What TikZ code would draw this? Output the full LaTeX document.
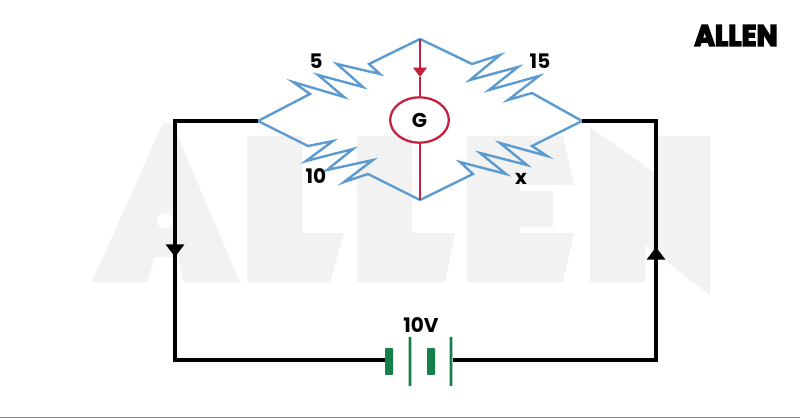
\documentclass[tikz,border=0pt]{standalone}
\usepackage{fontspec}
\setmainfont{Poppins}
\newfontfamily\logofont{Poppins}[BoldFeatures={FakeBold=5}]
\usetikzlibrary{arrows.meta,shapes.geometric}
\definecolor{wmark}{HTML}{F2F2F2}
\definecolor{legblue}{HTML}{5B9BD0}
\definecolor{galvred}{HTML}{C4213F}
\definecolor{cellgreen}{HTML}{14804A}
\tikzset{
  wire/.style = {draw=black,line width=2.6pt},
  leg/.style = {draw=legblue,line width=1.8pt},
  galv/.style = {draw=galvred,line width=1.7pt},
  plate/.style = {fill=cellgreen,draw=none,rounded corners=0.5pt},
  val/.style = {font=\fontsize{15}{15}\selectfont\bfseries,inner sep=0pt}
}
\tikzset{>={Triangle[length=9.5pt,width=13.5pt]}}

\begin{document}
\begin{tikzpicture}[x=0.75pt,y=-0.75pt]
  \useasboundingbox (0,0) rectangle (800,418);
  % watermark
  \fill[wmark,even odd rule] (92,282) -- (163,123) -- (172,123) -- (240,282) -- (183,282) -- (178,257) -- (155,257) -- (147,282) -- cycle (165,221) circle (8);
  \fill[wmark] (247,136) -- (302,136) -- (302,233) -- (344,233) -- (330,282) -- (247,282) -- cycle;
  \fill[wmark] (357,136) -- (412,136) -- (412,233) -- (455,233) -- (445,282) -- (357,282) -- cycle;
  \fill[wmark] (467,136) -- (563,136) -- (574,185) -- (520,185) -- (520,191) -- (553,191) -- (553,227) -- (520,227) -- (520,233) -- (574,233) -- (563,282) -- (467,282) -- cycle;
  \fill[wmark] (590,127) -- (655,173) -- (657,136) -- (710,136) -- (710,295) -- (645,245) -- (645,282) -- (590,282) -- cycle;
  \draw[gray,line width=1pt] (0,417.5) -- (800,417.5);

  \coordinate (left) at (258,121);
  \coordinate (right) at (582,121);
  \coordinate (top) at (420,39);
  \coordinate (bot) at (420,200);
  \coordinate (downtip) at (175,257);
  \coordinate (uptip) at (656,247);
  \coordinate (redtip) at (420,77);

  % bridge arms
  \draw[leg] (left) -- (310,94) -- (293,82) -- (344,97) -- (318,75) -- (363,87) -- (337,64) -- (380,74) -- (369,64) -- (top);
  \draw[leg] (top) -- (472,64) -- (500,55) -- (470,80) -- (518,67) -- (489,90) -- (539,76) -- (508,100) -- (532,93) -- (right);
  \draw[leg] (left) -- (308,146) -- (333,141) -- (306,161) -- (353,149) -- (327,170) -- (373,160) -- (344,182) -- (368,174) -- (bot);
  \draw[leg] (bot) -- (473,174) -- (460,162) -- (506,174) -- (480,153) -- (527,165) -- (500,143) -- (547,156) -- (532,146) -- (right);

  % galvanometer
  \node[galv,ellipse,minimum width=44pt,minimum height=34pt,inner sep=0pt,val] (G) at (419.5,120) {G};
  \draw[galv,->,>={Triangle[length=7pt,width=10pt]},galvred] (top) -- (redtip);
  \draw[galv] (redtip) -- (G.north -| redtip);
  \draw[galv] (G.south -| bot) -- (bot);

  % outer circuit
  \node[plate,minimum width=6pt,minimum height=20pt,inner sep=0pt] (cellA) at (389,361.5) {};
  \node[plate,minimum width=2pt,minimum height=37pt,inner sep=0pt] (cellB) at (410,361.5) {};
  \node[plate,minimum width=6pt,minimum height=20pt,inner sep=0pt] (cellC) at (431,361.5) {};
  \node[plate,minimum width=2pt,minimum height=37pt,inner sep=0pt] (cellD) at (451,361.5) {};
  \draw[wire] (right) -- (656,121) -- (656,360) -- (cellD.east |- 0,360);
  \draw[wire] (left) -- (175,121) -- (175,360) -- (cellA.west |- 0,360);
  \draw[wire,->] (175,230) -- (downtip);
  \draw[wire,->] (656,270) -- (uptip);

  % labels
  \node[val] (r5) at (316,61) {5};
  \node[val] (r15) at (540,61) {15};
  \node[val] (r10) at (316,176) {10};
  \node[val] (rx) at (521,179) {x};
  \node[val] (emf) at (421,325) {10V};
  \node[inner sep=0pt,xscale=0.95] (logo) at (736,35.5) {\logofont\fontsize{22}{22}\selectfont\bfseries ALLEN};
\end{tikzpicture}
\end{document}
